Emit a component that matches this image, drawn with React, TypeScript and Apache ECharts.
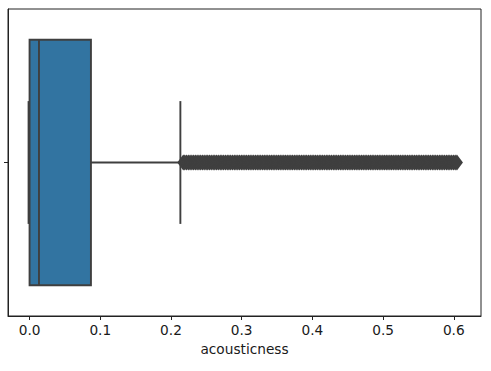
import React, { useEffect, useRef } from "react";
import * as echarts from "echarts";

const axisName = "acousticness";
const tickValues = [0, 0.1, 0.2, 0.3, 0.4, 0.5, 0.6];
// [lower whisker, Q1, median, Q3, upper whisker]
const boxStats = [0.0, 0.0, 0.0133, 0.0868, 0.2133];
const outliers = [
  0.2174, 0.2195, 0.222, 0.2245, 0.227, 0.2296, 0.232, 0.2345, 0.237, 0.2396,
  0.242, 0.2445, 0.247, 0.2496, 0.252, 0.2545, 0.257, 0.2596, 0.262, 0.2645,
  0.267, 0.2696, 0.272, 0.2745, 0.277, 0.2796, 0.282, 0.2845, 0.287, 0.2896,
  0.292, 0.2945, 0.297, 0.2996, 0.302, 0.3045, 0.307, 0.3096, 0.312, 0.3145,
  0.317, 0.3196, 0.322, 0.3245, 0.327, 0.3296, 0.332, 0.3345, 0.337, 0.3396,
  0.342, 0.3445, 0.347, 0.3496, 0.352, 0.3545, 0.357, 0.3596, 0.362, 0.3645,
  0.367, 0.3696, 0.372, 0.3745, 0.377, 0.3796, 0.382, 0.3845, 0.387, 0.3896,
  0.392, 0.3945, 0.397, 0.3996, 0.402, 0.4045, 0.407, 0.4096, 0.412, 0.4145,
  0.417, 0.4196, 0.422, 0.4245, 0.427, 0.4296, 0.432, 0.4345, 0.437, 0.4396,
  0.442, 0.4445, 0.447, 0.4496, 0.452, 0.4545, 0.457, 0.4596, 0.462, 0.4645,
  0.467, 0.4696, 0.472, 0.4745, 0.477, 0.4796, 0.482, 0.4845, 0.487, 0.4896,
  0.492, 0.4945, 0.497, 0.4996, 0.502, 0.5045, 0.507, 0.5096, 0.512, 0.5145,
  0.517, 0.5196, 0.522, 0.5245, 0.527, 0.5296, 0.532, 0.5345, 0.537, 0.5396,
  0.542, 0.5445, 0.547, 0.5496, 0.552, 0.5545, 0.557, 0.5596, 0.562, 0.5645,
  0.567, 0.5696, 0.572, 0.5745, 0.577, 0.5796, 0.582, 0.5845, 0.587, 0.5896,
  0.592, 0.5945, 0.597, 0.5996, 0.602, 0.6045,
];

const FONT = "DejaVu Sans";
const EDGE = "#3f3f3f";
const FILL = "#3274a1";

export default function App() {
  const ref = useRef<HTMLDivElement>(null);
  useEffect(() => {
    if (!ref.current) return;
    const chart = echarts.init(ref.current, undefined, { renderer: "svg" });
    const [lo, q1, med, q3, hi] = boxStats;
    chart.setOption({
      animation: false,
      grid: {
        left: 8,
        right: 10,
        top: 9,
        bottom: 55,
        show: true,
        borderColor: "#222",
        borderWidth: 1,
        backgroundColor: "#fff",
      },
      xAxis: {
        type: "value",
        min: -0.0305,
        max: 0.6385,
        name: axisName,
        nameLocation: "middle",
        nameGap: 26,
        nameTextStyle: { fontFamily: FONT, fontSize: 13.7, color: "#1a1a1a" },
        splitLine: { show: false },
        axisLine: { show: true, onZero: false, lineStyle: { color: "#222", width: 1 } },
        axisTick: {
          show: true,
          length: 4,
          customValues: tickValues,
          lineStyle: { color: "#222", width: 1 },
        },
        axisLabel: {
          customValues: tickValues,
          formatter: (v: number) => v.toFixed(1),
          fontFamily: FONT,
          fontSize: 13.7,
          color: "#1a1a1a",
          margin: 7,
        },
      },
      yAxis: {
        type: "value",
        min: -0.5,
        max: 0.5,
        splitLine: { show: false },
        axisLine: { show: true, onZero: false, lineStyle: { color: "#222", width: 1 } },
        axisTick: {
          show: true,
          length: 4,
          customValues: [0],
          lineStyle: { color: "#222", width: 1 },
        },
        axisLabel: { show: false },
      },
      series: [
        {
          type: "custom",
          data: [[lo, q1, med, q3, hi]],
          renderItem: (params: any, api: any) => {
            const a = api.value(0);
            const b = api.value(1);
            const m = api.value(2);
            const c = api.value(3);
            const d = api.value(4);
            const pLo = api.coord([a, 0]);
            const pQ1top = api.coord([b, 0.4]);
            const pQ3bot = api.coord([c, -0.4]);
            const pMedTop = api.coord([m, 0.4]);
            const pMedBot = api.coord([m, -0.4]);
            const pHi = api.coord([d, 0]);
            const capTop = api.coord([0, 0.2])[1];
            const capBot = api.coord([0, -0.2])[1];
            const cy = pLo[1];
            const lineStyle = { stroke: EDGE, lineWidth: 1.9, fill: null };
            return {
              type: "group",
              children: [
                {
                  type: "line",
                  shape: { x1: pLo[0], y1: cy, x2: pQ1top[0], y2: cy },
                  style: lineStyle,
                },
                {
                  type: "line",
                  shape: { x1: pQ3bot[0], y1: cy, x2: pHi[0], y2: cy },
                  style: lineStyle,
                },
                {
                  type: "line",
                  shape: { x1: pLo[0] - 1, y1: capTop, x2: pLo[0] - 1, y2: capBot },
                  style: lineStyle,
                },
                {
                  type: "line",
                  shape: { x1: pHi[0], y1: capTop, x2: pHi[0], y2: capBot },
                  style: lineStyle,
                },
                {
                  type: "rect",
                  shape: {
                    x: pQ1top[0],
                    y: pQ1top[1],
                    width: pQ3bot[0] - pQ1top[0],
                    height: pQ3bot[1] - pQ1top[1],
                  },
                  style: { fill: FILL, stroke: EDGE, lineWidth: 1.9 },
                },
                {
                  type: "line",
                  shape: { x1: pMedTop[0], y1: pMedTop[1], x2: pMedBot[0], y2: pMedBot[1] },
                  style: lineStyle,
                },
              ],
            };
          },
        },
        {
          type: "scatter",
          data: outliers.map((v) => [v, 0]),
          symbol: "diamond",
          symbolSize: [12, 16],
          itemStyle: { color: EDGE, opacity: 1 },
          z: 3,
        },
      ],
    });
    return () => chart.dispose();
  }, []);
  return (
    <div
      ref={ref}
      style={{ position: "fixed", left: 0, top: 0, width: 491, height: 371, background: "#fff" }}
    />
  );
}
